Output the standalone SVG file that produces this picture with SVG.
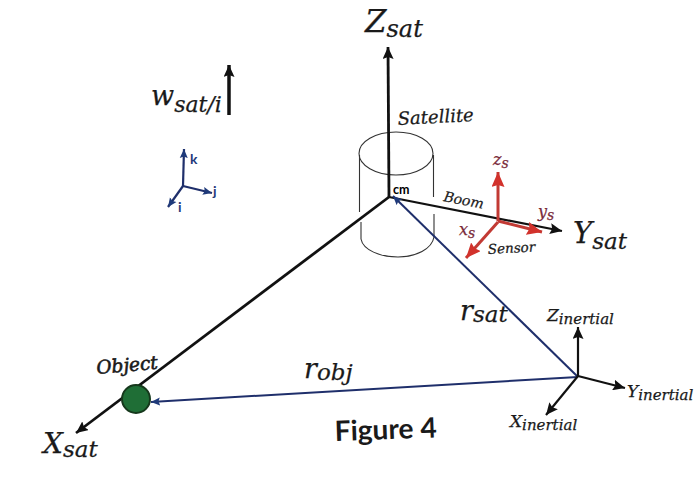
<svg xmlns="http://www.w3.org/2000/svg" width="700" height="493" viewBox="0 0 700 493">
<style>
.m{font-family:"DejaVu Serif","Liberation Serif",serif;font-style:italic;fill:#1a1a1a;stroke:#1a1a1a;stroke-width:.25}
.s{font-family:Lato,"Open Sans","Liberation Sans",sans-serif;font-weight:700}
.ax{stroke:#111;fill:none}
.bl{stroke:#1f2f6b;fill:none}
.rd{stroke:#c23a34;fill:none}
.cyl{stroke:#333;stroke-width:1.1;fill:none}
.r{fill:#7a2a3a;stroke:#7a2a3a}
</style>
<defs>
<marker id="ak" markerUnits="userSpaceOnUse" markerWidth="13" markerHeight="11" refX="12" refY="5.500" orient="auto"><path d="M0 0L12 5.500L0 11L2 5.500Z" fill="#111"/></marker>
<marker id="ab" markerUnits="userSpaceOnUse" markerWidth="10" markerHeight="9" refX="9" refY="4.500" orient="auto"><path d="M0 .5L9 4.500L0 8.500L1.500 4.500Z" fill="#1f3a7a"/></marker>
<marker id="ar" markerUnits="userSpaceOnUse" markerWidth="16" markerHeight="13" refX="15" refY="6.500" orient="auto"><path d="M0 0L15 6.500L0 13L2 6.500Z" fill="#d2322c"/></marker>
</defs>
<rect width="700" height="493" fill="#fff"/>
<g id="satellite">
<ellipse class="cyl" cx="396" cy="153.500" rx="37" ry="21.500"/>
<path class="cyl" d="M359.500 155V212M361 222V239C363 250 380 257 398 257C416 257 432 249 434 237V214M433.500 155V197"/>
<text class="m" x="398" y="125" font-size="18" transform="rotate(-3 398 125)">Satellite</text>
<text class="s" x="393" y="194" font-size="12.500">cm</text>
</g>
<g id="connectors">
<path class="ax" stroke-width="2.800" marker-end="url(#ak)" d="M389 197L388 47"/>
<path class="ax" stroke-width="2.800" marker-end="url(#ak)" d="M389 197L76 433"/>
<path class="ax" stroke-width="2.200" marker-end="url(#ak)" d="M389 197L562 231"/>
<path class="bl" stroke-width="2" marker-end="url(#ab)" d="M578 377L393 196"/>
<path class="bl" stroke-width="2" marker-end="url(#ab)" d="M578 377L151 402"/>
<path class="ax" stroke-width="2.200" marker-end="url(#ak)" d="M578 376L578 327"/>
<path class="ax" stroke-width="2.200" marker-end="url(#ak)" d="M578 376L625 388"/>
<path class="ax" stroke-width="2.200" marker-end="url(#ak)" d="M578 376L546 415"/>
<path class="ax" stroke-width="3.500" marker-end="url(#ak)" d="M229 115L229 65"/>
<path class="bl" stroke-width="2.200" marker-end="url(#ab)" d="M183 186L184 149"/>
<path class="bl" stroke-width="2.200" marker-end="url(#ab)" d="M183 186L212 193"/>
<path class="bl" stroke-width="2.200" marker-end="url(#ab)" d="M183 186L168 207"/>
</g>
<g id="sensor">
<path class="rd" stroke-width="3" marker-end="url(#ar)" d="M498 221L498 172"/>
<path class="rd" stroke-width="3" marker-end="url(#ar)" d="M498 221L542 232"/>
<path class="rd" stroke-width="3" marker-end="url(#ar)" d="M498 222L466 258"/>
<text class="m r" x="493" y="165" font-size="16">z<tspan font-size="14" dy="3">s</tspan></text>
<text class="m r" x="538" y="217" font-size="16">y<tspan font-size="14" dy="3">s</tspan></text>
<text class="m r" x="459" y="235" font-size="16">x<tspan font-size="14" dy="3">s</tspan></text>
<text class="m" x="488" y="254" font-size="13.500" transform="rotate(-3 488 254)">Sensor</text>
<text class="m" x="443" y="201" font-size="14" transform="rotate(11 443 201)">Boom</text>
</g>
<g id="object">
<circle cx="136" cy="399" r="14" fill="#1f6e36" stroke="#16381c" stroke-width="2"/>
<text class="m" x="97" y="374" font-size="18.500" style="stroke-width:.6" transform="rotate(-5 97 374)">Object</text>
</g>
<g id="labels">
<text class="m" x="365" y="32" font-size="31">Z<tspan font-size="24" dy="5">sat</tspan></text>
<text class="m" x="573" y="243" font-size="29">Y<tspan font-size="23" dy="6">sat</tspan></text>
<text class="m" x="43" y="453" font-size="28">X<tspan font-size="23" dy="4">sat</tspan></text>
<text class="m" x="151" y="105" font-size="27">w<tspan font-size="22" dy="7">sat/i</tspan></text>
<text class="m" x="460" y="320" font-size="27">r<tspan font-size="23" dy="2">sat</tspan></text>
<text class="m" x="304" y="378" font-size="27">r<tspan font-size="23" dy="2">obj</tspan></text>
<text class="m" x="547" y="321" font-size="17">Z<tspan font-size="15" dy="3">inertial</tspan></text>
<text class="m" x="627" y="397" font-size="17">Y<tspan font-size="15" dy="3">inertial</tspan></text>
<text class="m" x="510" y="427" font-size="17">X<tspan font-size="15" dy="3">inertial</tspan></text>
<text class="s" x="335" y="441" font-size="28" textLength="102" lengthAdjust="spacingAndGlyphs" transform="rotate(-2 335 441)" fill="#1a1a1a">Figure 4</text>
</g>
<g id="ijk" class="s" fill="#1f3a7a" font-size="14">
<text x="190" y="164">k</text>
<text x="213" y="196">j</text>
<text x="178" y="212">i</text>
</g>
</svg>
